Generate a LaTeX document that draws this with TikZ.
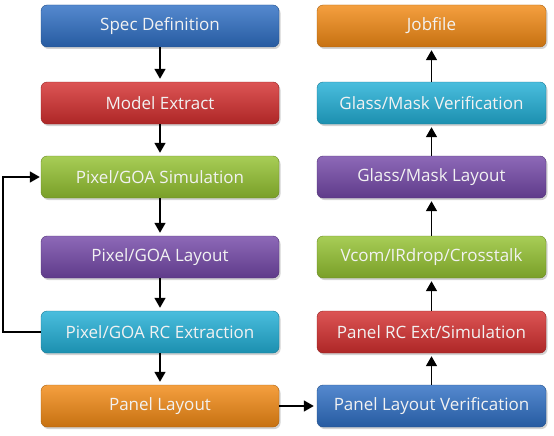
\documentclass[tikz,border=0pt]{standalone}
\usepackage{fontspec}
\setmainfont{Open Sans}
\usetikzlibrary{arrows.meta,shadows}
\definecolor{cblue}{HTML}{2F6FC4}
\definecolor{cred}{HTML}{D42F2F}
\definecolor{cgreen}{HTML}{94C231}
\definecolor{cpurple}{HTML}{7448A8}
\definecolor{ccyan}{HTML}{22AFD6}
\definecolor{corange}{HTML}{F28A15}
\begin{document}
\begin{tikzpicture}[x=1pt,y=-1pt,
  box/.style={rounded corners=6pt, minimum height=42pt, inner sep=0pt,
    text=white!95!black, font=\fontsize{17}{19}\selectfont,
    top color=#1!82!white, middle color=#1, bottom color=#1!82!black,
    draw=#1!70!black, line width=0.4pt,
    drop shadow={opacity=0.35, shadow xshift=1.5pt, shadow yshift=-2pt}},
  lbox/.style={box=#1, minimum width=238pt},
  rbox/.style={box=#1, minimum width=229pt},
  arr/.style={-{Triangle[length=10pt,width=11pt]}, line width=1.6pt, black, shorten >=3pt}]
\useasboundingbox (0,0) rectangle (554,436);
\node[lbox=cblue]   (spec)  at (160,26)  {Spec Definition};
\node[lbox=cred]    (model) at (160,103) {Model Extract};
\node[lbox=cgreen]  (sim)   at (160,177) {Pixel/GOA Simulation};
\node[lbox=cpurple] (lay)   at (160,257) {Pixel/GOA Layout};
\node[lbox=ccyan]   (rc)    at (160,332) {Pixel/GOA RC Extraction};
\node[lbox=corange] (panel) at (160,406) {Panel Layout};
\node[rbox=corange] (job)   at (431.5,26)  {Jobfile};
\node[rbox=ccyan]   (gmv)   at (431.5,103) {Glass/Mask Verification};
\node[rbox=cpurple] (gml)   at (431.5,177) {Glass/Mask Layout};
\node[rbox=cgreen]  (vcom)  at (431.5,257) {Vcom/IRdrop/Crosstalk};
\node[rbox=cred]    (prc)   at (431.5,332) {Panel RC Ext/Simulation};
\node[rbox=cblue]   (plv)   at (431.5,406) {Panel Layout Verification};
\draw[arr] (spec.south)  -- (model.north);
\draw[arr] (model.south) -- (sim.north);
\draw[arr] (sim.south)   -- (lay.north);
\draw[arr] (lay.south)   -- (rc.north);
\draw[arr] (rc.south)    -- (panel.north);
\draw[arr] (panel.east)  -- (plv.west);
\draw[arr] (plv.north)   -- (prc.south);
\draw[arr] (prc.north)   -- (vcom.south);
\draw[arr] (vcom.north)  -- (gml.south);
\draw[arr] (gml.north)   -- (gmv.south);
\draw[arr] (gmv.north)   -- (job.south);
\draw[arr, shorten >=1pt] (rc.west) -- ++(-38,0) |- (sim.west);
\end{tikzpicture}
\end{document}
